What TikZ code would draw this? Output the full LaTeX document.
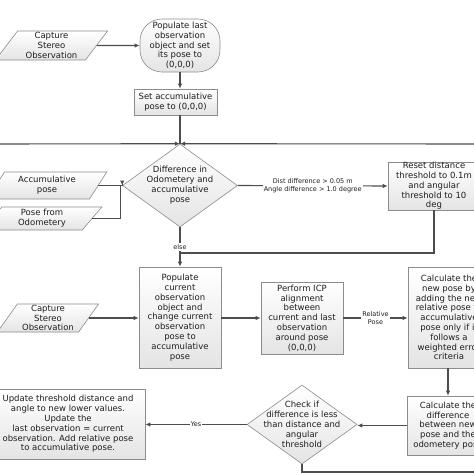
\documentclass[tikz,border=0pt]{standalone}
\usepackage{fontspec}
\setmainfont{DejaVu Sans}
\usetikzlibrary{shapes.geometric,arrows.meta,shadows,calc}
\definecolor{boxline}{HTML}{8C8C8C}
\definecolor{boxfill}{HTML}{E4E4E4}
\definecolor{linec}{HTML}{4D4D4D}
\definecolor{txt}{HTML}{1E1E1E}
\definecolor{shadowc}{HTML}{5A5A5A}
\begin{document}
\begin{tikzpicture}[x=1pt,y=-1pt,
  font=\fontsize{8.5}{9.8}\selectfont,
  base/.style={draw=boxline, line width=0.6pt, top color=white, bottom color=boxfill,
    text=txt, align=center, inner sep=0pt},
  shadowed/.style={drop shadow={shadow xshift=1.2pt, shadow yshift=-1.2pt, fill=shadowc, opacity=1}},
  procbox/.style={base, rectangle, shadowed},
  roundbox/.style={base, rectangle, rounded corners=22pt},
  para/.style={base, trapezium, trapezium left angle=57, trapezium right angle=123,
    trapezium stretches=true},
  decision/.style={base, diamond, minimum width=#1},
  dtext/.style={text=txt, align=center, font=\fontsize{8.5}{10}\selectfont},
  conn/.style={draw=linec, line width=1.1pt, -{Latex[length=5pt,width=4.5pt]}},
  plain/.style={draw=linec, line width=1.1pt},
  elabel/.style={fill=white, text=txt, align=center, inner sep=1pt,
    font=\fontsize{6.5}{7.5}\selectfont}
]
\useasboundingbox (0,0) rectangle (474,474);
\clip (0,0) rectangle (474,474);

% nodes
\node[para, minimum width=113pt, minimum height=29pt] (cap1) at (51.5,45.5) {Capture\\Stereo\\Observation};
\node[roundbox, minimum width=80pt, minimum height=53pt] (popLast) at (180,45.5)
  {Populate last\\observation\\object and set\\its pose to\\(0,0,0)};
\node[procbox, minimum width=83pt, minimum height=26pt] (setAcc) at (175.5,102)
  {Set accumulative\\pose to (0,0,0)};
\node[base, diamond, minimum width=115pt, minimum height=83pt,
  label={[dtext]center:{Difference in\\Odometery and\\accumulative\\pose}}] (diff) at (180,185.5) {};
\node[para, minimum width=120pt, minimum height=27pt] (acc) at (47,185.5) {Accumulative\\pose};
\node[para, minimum width=120pt, minimum height=23pt] (odo) at (42,218.5) {Pose from\\Odometery};
\node[procbox, minimum width=92pt, minimum height=48pt] (reset) at (434,186)
  {Reset distance\\threshold to 0.1m\\and angular\\threshold to 10\\deg};
\node[procbox, minimum width=82pt, minimum height=101pt] (popCur) at (180,317.5)
  {Populate\\current\\observation\\object and\\change current\\observation\\pose to\\accumulative\\pose};
\node[para, minimum width=102pt, minimum height=28pt] (cap2) at (48,318) {Capture\\Stereo\\Observation};
\node[procbox, minimum width=82pt, minimum height=72pt] (icp) at (302,318)
  {Perform ICP\\alignment\\between\\current and last\\observation\\around pose\\(0,0,0)};
\node[procbox, minimum width=82pt, minimum height=101pt] (calcNew) at (449,317.5)
  {Calculate the\\new pose by\\adding the new\\relative pose to\\accumulative\\pose only if it\\follows a\\weighted error\\criteria};
\node[procbox, minimum width=82pt, minimum height=59pt] (calcDiff) at (448,425.5)
  {Calculate the\\difference\\between new\\pose and the\\odometery pose};
\node[base, diamond, minimum width=110pt, minimum height=79pt,
  label={[dtext]center:{Check if\\difference is less\\than distance and\\angular\\threshold}}] (check) at (302,424.5) {};
\node[procbox, minimum width=154pt, minimum height=70pt] (update) at (68,424)
  {Update threshold distance and\\angle to new lower values.\\Update the\\last observation = current\\observation. Add relative pose\\to accumulative pose.};

% free ends
\coordinate (inL) at (-3,144);
\coordinate (inR) at (478,144);
\coordinate (jn) at ($(diff.west)+(-2,0)$);
\coordinate (elseJoin) at (180,253);
\coordinate (outR) at (480,472);
\coordinate (chkDown) at (302,472);

% connectors
\draw[conn] (cap1.east) -- (popLast.west);
\draw[conn] (popLast.south) -- (popLast.south |- setAcc.north);
\draw[plain] (setAcc.south -| diff.north) -- (diff.north);
\draw[conn] (inL) -- (diff.north);
\draw[conn] (inR) -- (diff.north);
\draw[conn] (acc.east) -- (acc.east -| diff.west) -- (diff.west);
\draw[plain] (odo.east) -| (jn);
\draw[conn] (diff.east) -- node[elabel] {Dist difference \textgreater{} 0.05 m\\Angle difference \textgreater{} 1.0 degree} (reset.west);
\draw[plain] (reset.south) |- (elseJoin);
\draw[conn] (diff.south) -- node[elabel, pos=0.5] {else} (popCur.north);
\draw[conn] (cap2.east) -- (cap2.east -| popCur.west);
\draw[conn] (popCur.east |- icp.west) -- (icp.west);
\draw[conn] (icp.east) -- node[elabel] {Relative\\Pose} (icp.east -| calcNew.west);
\draw[conn] (calcNew.south -| calcDiff.north) -- (calcDiff.north);
\draw[conn] (calcDiff.west) -- (calcDiff.west -| check.east);
\draw[conn] (check.west) -- node[elabel] {Yes} (check.west -| update.east);
\draw[plain] (check.south) -- (chkDown) -- (outR);
\end{tikzpicture}
\end{document}
